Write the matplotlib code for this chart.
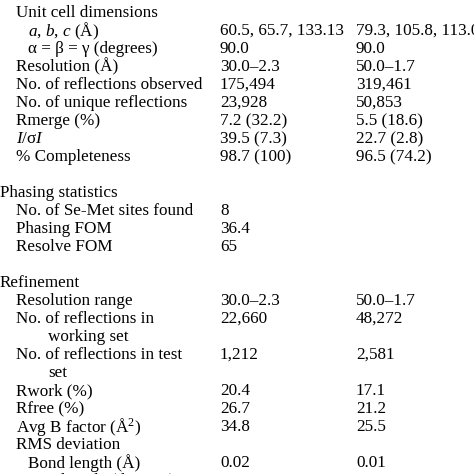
import matplotlib
matplotlib.use("Agg")
import matplotlib.pyplot as plt

labels = ["Unit cell dimensions", "$a$, $b$, $c$ (Å)", "α = β = γ (degrees)", "Resolution (Å)",
          "No. of reflections observed", "No. of unique reflections", "Rmerge (%)", "$I$/σ$I$",
          "% Completeness", "", "Phasing statistics", "No. of Se-Met sites found", "Phasing FOM",
          "Resolve FOM", "", "Refinement", "Resolution range", "No. of reflections in",
          "working set", "No. of reflections in test", "set", "Rwork (%)", "Rfree (%)",
          "Avg B factor (Å$^2$)", "RMS deviation", "Bond length (Å)", "Bond angle (degrees)"]
levels = [1, 2, 2, 1, 1, 1, 1, 1, 1, 0, 0, 1, 1, 1, 0, 0, 1, 1, 3, 1, 3, 1, 1, 1, 1, 2, 2]
col1 = ["", "60.5, 65.7, 133.13", "90.0", "30.0–2.3", "175,494", "23,928", "7.2 (32.2)", "39.5 (7.3)",
        "98.7 (100)", "", "", "8", "36.4", "65", "", "", "30.0–2.3", "22,660", "", "1,212", "",
        "20.4", "26.7", "34.8", "", "0.02", "1.64"]
col2 = ["", "79.3, 105.8, 113.0", "90.0", "50.0–1.7", "319,461", "50,853", "5.5 (18.6)", "22.7 (2.8)",
        "96.5 (74.2)", "", "", "", "", "", "", "", "50.0–1.7", "48,272", "", "2,581", "",
        "17.1", "21.2", "25.5", "", "0.01", "1.35"]

plt.rcParams['mathtext.fontset'] = 'custom'
plt.rcParams['mathtext.rm'] = 'Liberation Serif'
plt.rcParams['mathtext.it'] = 'Liberation Serif:italic'
fig = plt.figure(figsize=(4.74, 4.74), dpi=100)
fs = 12.3
W, H = 474, 474
indent_px = [0, 16, 28, 48]
fam = 'Liberation Serif'
for i, (a, b, c, lv) in enumerate(zip(labels, col1, col2, levels)):
    y = 1 - (13 + 18 * i) / H
    if a:
        fig.text(indent_px[lv] / W, y, a, family=fam, fontsize=fs, va='center', ha='left')
    if b:
        fig.text(220 / W, y, b, family=fam, fontsize=fs, va='center', ha='left')
    if c:
        fig.text(356 / W, y, c, family=fam, fontsize=fs, va='center', ha='left')
fig.savefig("out.png", dpi=100)
